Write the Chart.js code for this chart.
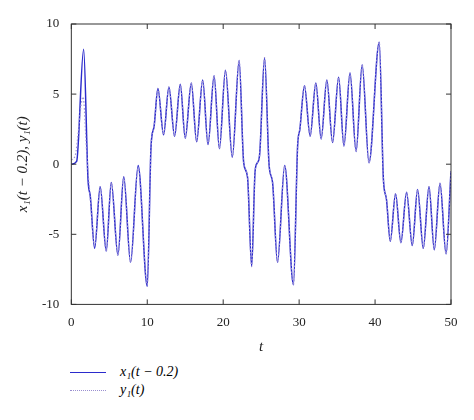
<!DOCTYPE html>
<html><head><meta charset="utf-8">
<script src="https://cdn.jsdelivr.net/npm/chart.js@4"></script>
<style>
body{margin:0;background:#fff;font-family:"Liberation Serif","DejaVu Serif",serif;}
#wrap{position:relative;width:474px;height:420px;}
canvas{position:absolute;left:0;top:0;}
.leg{position:absolute;left:70px;font-size:14px;font-style:italic;display:flex;align-items:center;}
.ln{display:inline-block;width:36px;margin-right:14px;}
</style></head><body>
<div id="wrap"><canvas id="c" width="474" height="360"></canvas>
<div class="leg" style="top:364px"><span class="ln" style="border-top:1.5px solid #2b2bcc"></span>x₁(t − 0.2)</div>
<div class="leg" style="top:382px"><span class="ln" style="border-top:1.5px dotted #9a8fd0"></span>y₁(t)</div>
</div>
<script>
const x1T=[0,0.7,1.62,2.2,2.5,3.07,3.8,4.6,5.26,6.14,6.9,7.8,8.8,10.0,10.5,10.9,11.4,12.15,12.85,13.6,14.35,15.0,15.8,16.5,17.3,18.0,18.8,19.5,20.3,21.2,22.1,22.7,23.2,23.75,24.2,24.5,24.8,25.45,26.05,26.5,27.15,28.1,29.25,29.8,30.1,30.7,31.45,32.2,32.9,33.65,34.4,35.2,35.9,36.7,37.5,38.3,39.2,40.55,41.1,41.5,42.0,42.7,43.4,44.15,44.9,45.6,46.35,47.1,47.8,48.55,49.35,50];
const x1V=[0,0.2,8.2,-1.1,-2.3,-6.0,-1.6,-6.2,-1.3,-6.5,-0.9,-7.0,-0.1,-8.7,1.3,2.7,5.4,2.1,5.5,2.0,5.7,1.85,5.8,1.6,6.0,1.4,6.3,1.1,6.7,0.5,7.4,0.1,-0.9,-7.3,-0.5,0.1,0.7,7.6,-0.1,-1.3,-7.0,-0.1,-8.6,1.3,2.5,5.6,2.0,5.8,1.8,6.0,1.55,6.2,1.3,6.5,0.9,7.1,0.1,8.7,-1.1,-2.5,-5.5,-2.1,-5.6,-2.0,-5.8,-1.8,-6.0,-1.6,-6.1,-1.35,-6.4,-0.5];
const y1T=[0,0.5,1.55,2.0,2.5,3.07,3.8,4.6,5.26,6.14,6.9,7.8,8.8,10.0,10.5,10.9,11.4,12.15,12.85,13.6,14.35,15.0,15.8,16.5,17.3,18.0,18.8,19.5,20.3,21.2,22.1,22.7,23.2,23.75,24.2,24.5,24.8,25.45,26.05,26.5,27.15,28.1,29.25,29.8,30.1,30.7,31.45,32.2,32.9,33.65,34.4,35.2,35.9,36.7,37.5,38.3,39.2,40.55,41.1,41.5,42.0,42.7,43.4,44.15,44.9,45.6,46.35,47.1,47.8,48.55,49.35,50];
const y1V=[0.3,0.6,4.8,1.0,-2.5,-5.8,-1.6,-6.2,-1.3,-6.5,-0.9,-7.0,-0.3,-8.6,1.3,2.7,5.4,2.1,5.5,2.0,5.7,1.85,5.8,1.6,6.0,1.4,6.3,1.1,6.7,0.5,7.4,0.1,-0.9,-7.3,-0.5,0.1,0.7,7.6,-0.1,-1.3,-7.0,-0.1,-8.6,1.3,2.5,5.6,2.0,5.8,1.8,6.0,1.55,6.2,1.3,6.5,0.9,7.1,0.1,8.7,-1.1,-2.5,-5.5,-2.1,-5.6,-2.0,-5.8,-1.8,-6.0,-1.6,-6.1,-1.35,-6.4,-0.5];
const xTicks=[0,10,20,30,40,50];
const yTicks=[-10,-5,0,5,10];
const pts=(T,V)=>T.map((t,i)=>({x:t,y:V[i]}));
const inTicks={id:'inTicks',afterDraw(ch){const c=ch.ctx,a=ch.chartArea,xs=ch.scales.x,ys=ch.scales.y;
c.save();c.strokeStyle='#333';c.lineWidth=1;c.strokeRect(a.left,a.top,a.right-a.left,a.bottom-a.top);
c.beginPath();xTicks.forEach(v=>{const p=xs.getPixelForValue(v);c.moveTo(p,a.bottom);c.lineTo(p,a.bottom-5);c.moveTo(p,a.top);c.lineTo(p,a.top+5);});
yTicks.forEach(v=>{const p=ys.getPixelForValue(v);c.moveTo(a.left,p);c.lineTo(a.left+5,p);c.moveTo(a.right,p);c.lineTo(a.right-5,p);});
c.stroke();c.restore();}};
new Chart(document.getElementById('c'),{type:'scatter',
data:{datasets:[
{data:pts(y1T,y1V),showLine:true,borderColor:'#a095d6',borderWidth:1.2,borderDash:[1.5,2],pointRadius:0,cubicInterpolationMode:'monotone'},
{data:pts(x1T,x1V),showLine:true,borderColor:'#2b2bcc',borderWidth:1.5,pointRadius:0,cubicInterpolationMode:'monotone'}]},
options:{responsive:false,animation:false,layout:{padding:{top:24,right:23,left:10}},
plugins:{legend:{display:false},tooltip:{enabled:false}},
scales:{
x:{type:'linear',min:0,max:50,afterBuildTicks:s=>{s.ticks=xTicks.map(v=>({value:v}));},grid:{display:false},border:{display:false},
ticks:{color:'#222',font:{family:'Liberation Serif',size:13},padding:2},
title:{display:true,text:'t',color:'#222',font:{family:'Liberation Serif',size:15,style:'italic'},padding:{top:6}}},
y:{min:-10,max:10,afterBuildTicks:s=>{s.ticks=yTicks.map(v=>({value:v}));},grid:{display:false},border:{display:false},
ticks:{color:'#222',font:{family:'Liberation Serif',size:13},padding:4},
title:{display:true,text:'x₁(t − 0.2), y₁(t)',color:'#222',font:{family:'Liberation Serif',size:15,style:'italic'},padding:{bottom:6}}}}},
plugins:[inTicks]});
</script></body></html>
